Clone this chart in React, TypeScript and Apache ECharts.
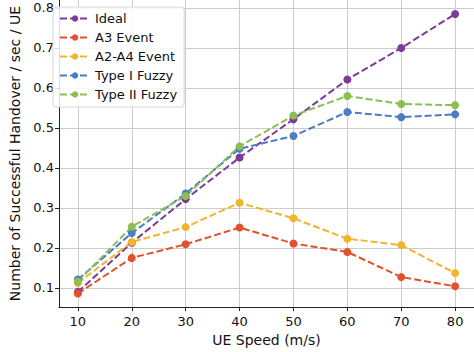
import React, { useEffect, useRef } from "react";
import * as echarts from "echarts";

const speeds = [10, 20, 30, 40, 50, 60, 70, 80];
const ideal = [0.09, 0.213, 0.322, 0.426, 0.522, 0.621, 0.7, 0.785];
const a3Event = [0.086, 0.175, 0.209, 0.251, 0.211, 0.19, 0.127, 0.104];
const a2a4Event = [0.112, 0.215, 0.252, 0.313, 0.274, 0.223, 0.207, 0.137];
const type1Fuzzy = [0.121, 0.237, 0.336, 0.448, 0.48, 0.54, 0.527, 0.534];
const type2Fuzzy = [0.116, 0.253, 0.33, 0.454, 0.531, 0.58, 0.56, 0.557];
const xTicks = [10, 20, 30, 40, 50, 60, 70, 80];
const yTicks = [0.1, 0.2, 0.3, 0.4, 0.5, 0.6, 0.7, 0.8];

const seriesDefs = [
  { name: "Ideal", data: ideal, color: "#7d3a98" },
  { name: "A3 Event", data: a3Event, color: "#e2512e" },
  { name: "A2-A4 Event", data: a2a4Event, color: "#f0b52d" },
  { name: "Type I Fuzzy", data: type1Fuzzy, color: "#4a7dc3" },
  { name: "Type II Fuzzy", data: type2Fuzzy, color: "#8bbf55" },
];

const FONT = "DejaVu Sans";

export default function App() {
  const ref = useRef<HTMLDivElement>(null);
  useEffect(() => {
    if (!ref.current) return;
    const chart = echarts.init(ref.current, null, { renderer: "svg" });
    chart.setOption({
      animation: false,
      backgroundColor: "#ffffff",
      textStyle: { fontFamily: FONT },
      grid: { left: 48, right: 0, top: 0, bottom: 35, containLabel: false },
      legend: {
        orient: "vertical",
        left: 53,
        top: 7,
        padding: [5, 7, 6, 6],
        itemGap: 6,
        itemWidth: 30,
        itemHeight: 8,
        backgroundColor: "rgba(255,255,255,0.85)",
        borderColor: "#d6d6d6",
        borderWidth: 1,
        borderRadius: 3,
        textStyle: { fontFamily: FONT, fontSize: 13, color: "#111" },
        data: seriesDefs.map((s) => s.name),
      },
      xAxis: {
        type: "value",
        min: 6.5,
        max: 83.5,
        name: "UE Speed (m/s)",
        nameLocation: "middle",
        nameGap: 25,
        nameTextStyle: { fontFamily: FONT, fontSize: 14, color: "#111" },
        axisLine: { show: true, onZero: false, lineStyle: { color: "#222", width: 1 } },
        axisTick: { show: true, length: 4, customValues: xTicks, lineStyle: { color: "#222" } },
        axisLabel: { customValues: xTicks, fontFamily: FONT, fontSize: 13, color: "#111", margin: 8 },
        splitLine: { show: true, customValues: xTicks, lineStyle: { color: "#cccccc", width: 1 } },
      },
      yAxis: {
        type: "value",
        min: 0.052,
        max: 0.82,
        name: "Number of Successful Handover / sec / UE",
        nameLocation: "middle",
        nameGap: 37,
        nameTextStyle: { fontFamily: FONT, fontSize: 14, color: "#111" },
        axisLine: { show: true, onZero: false, lineStyle: { color: "#222", width: 1 } },
        axisTick: { show: true, length: 4, customValues: yTicks, lineStyle: { color: "#222" } },
        axisLabel: {
          customValues: yTicks,
          fontFamily: FONT,
          fontSize: 13,
          color: "#111",
          margin: 5,
          formatter: (v: number) => v.toFixed(1),
        },
        splitLine: { show: true, customValues: yTicks, lineStyle: { color: "#cccccc", width: 1 } },
      },
      series: seriesDefs.map((s) => ({
        name: s.name,
        type: "line",
        data: speeds.map((x, i) => [x, s.data[i]]),
        symbol: "circle",
        symbolSize: 8,
        color: s.color,
        itemStyle: { color: s.color },
        lineStyle: { color: s.color, width: 2, type: [7, 3] },
        clip: false,
      })),
    });
    return () => chart.dispose();
  }, []);
  return (
    <div
      ref={ref}
      style={{ position: "fixed", left: 0, top: 0, width: 474, height: 352 }}
    />
  );
}
